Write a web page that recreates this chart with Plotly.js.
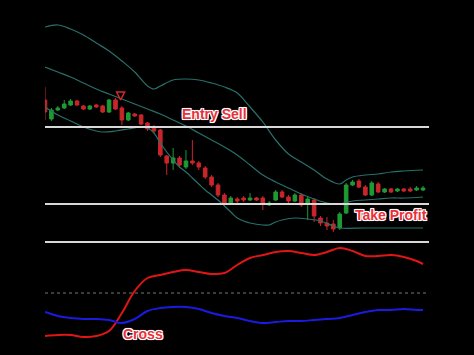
<!DOCTYPE html>
<html>
<head>
<meta charset="utf-8">
<script src="https://cdn.plot.ly/plotly-3.0.1.min.js"></script>
<style>html,body{margin:0;padding:0;background:#000;}#chart{width:474px;height:355px;}</style>
</head>
<body>
<div id="chart"></div>
<script>
// ---- candle data (bar index 0..59) ----
const bars = Array.from({length: 60}, (_, i) => i);
const openP  = [142,123,132,134,137,141,136,133,137,136,130,142,134,122,128,127,119,115,112,86,79,84,75,81,79,74,65,57,47,39,43,44,42,44,44,37,42,50,45,41,47,39,42,24,19,18,14,29,57,61,55,47,58,50,53,51,53,53,52,52];
const highP  = [155,134,136,142,143,142,137,137,138,137,143,144,136,130,129,128,120,117,113,87,94,86,92,102,81,76,67,59,49,46,45,46,49,45,46,41,52,52,47,49,49,45,44,26,25,22,30,59,62,63,57,61,60,54,54,54,54,55,56,56];
const lowP   = [122,121,131,133,136,136,132,132,134,129,129,132,117,121,125,117,111,109,85,67,72,74,73,77,72,63,55,45,36,37,39,40,41,41,32,36,41,44,39,40,35,22,20,16,12,10,12,28,56,54,46,46,49,49,49,50,50,50,51,51];
const closeP = [130,132,134,138,141,137,133,136,135,130,142,133,122,129,126,118,113,111,87,79,84,77,81,79,75,65,57,47,39,44,41,42,44,42,39,39,50,45,41,47,37,43,26,19,16,13,28,57,60,55,47,59,50,53,50,53,51,51,54,54];

// ---- Bollinger bands ----
const upperX = [0,2,4,6,8,10,12,14,16,17,18,20,22,24,26,28,30,32,34,36,38,40,42,44,46,47,48,50,52,54,56,59];
const upperV = [215,217,213,207,199,191,181,170,156,153,156,162,163,162,159,155,149,135,120,102,88,80,72,63,58,62,65,67,68,70,71,72];
const midX = [0,2,4,6,8,10,12,14,16,18,20,22,24,26,28,30,32,34,36,38,40,42,44,46,48,50,52,54,56,59];
const midV = [175,170,165,159,153,148,143,138,133,128,122,116,109,102,95,87,77,67,60,54,48,43,39,38,41,42,43,44,44,45];
const lowerX = [0,2,4,6,8,9,11,13,15,16,17,18,19,20,21,22,23,24,25,26,27,28,29,30,31,32,34,35,36,37,39,41,43,45,46,50,55,59];
const lowerV = [135,127,121,115,111,110,111,113,115,114,109,99,90,82,75,70,64,58,52,47,42,36,30,24,21,19,17,17,20,22,24,23,21,16,14,14,14,14];

// ---- levels ----
const entrySell = 115;
const takeProfit = 38;
const sellSignalBar = 11.8, sellSignalPrice = 142;

// ---- oscillator (lower window) ----
const oscX = [0,2,4,6,8,10,12,14,16,18,20,22,24,26,28,30,32,34,36,38,40,42,44,46,48,50,52,54,56,58,59];
const oscRed  = [7,8,8,6,7,12,30,52,65,68,71,73,71,69,70,78,85,88,91,92,90,88,91,95,92,87,87,88,86,82,79];
const oscBlue = [31,27,25,24,24,23,20,24,32,35,36,36,34,30,27,25,22,20,21,22,22,23,24,25,28,31,33,33,34,33,33];
const oscLevel = 50;

const bandColor = 'rgb(40,112,106)';
const traces = [
  {type:'scatter', mode:'lines', x: upperX, y: upperV, line:{color:bandColor, width:1.2, shape:'spline'}, hoverinfo:'skip'},
  {type:'scatter', mode:'lines', x: midX, y: midV, line:{color:bandColor, width:1.2, shape:'spline'}, hoverinfo:'skip'},
  {type:'scatter', mode:'lines', x: lowerX, y: lowerV, line:{color:bandColor, width:1.2, shape:'spline'}, hoverinfo:'skip'},
  {type:'candlestick', x: bars, open: openP, high: highP, low: lowP, close: closeP,
   increasing:{line:{color:'#1f9a33', width:1}, fillcolor:'#1f9a33'},
   decreasing:{line:{color:'#c8262b', width:1}, fillcolor:'#c8262b'}},
  {type:'scatter', mode:'markers', x:[sellSignalBar], y:[sellSignalPrice], marker:{symbol:'arrow-down-open', size:8, color:'#d42a2a', line:{width:1.5, color:'#d42a2a'}}},
  {type:'scatter', mode:'lines', x: oscX, y: oscRed, yaxis:'y2', line:{color:'#e01515', width:2, shape:'spline'}},
  {type:'scatter', mode:'lines', x: oscX, y: oscBlue, yaxis:'y2', line:{color:'#1a1ae0', width:2, shape:'spline'}}
];

const sep = 113/355;
const lblFont = {family:'Liberation Sans, Arial, sans-serif', size:14, weight:700, color:'#e8303a',
  shadow:'1px 1px 0 #fff, -1px -1px 0 #fff, 1px -1px 0 #fff, -1px 1px 0 #fff, 0 1px 1px #fcc, 1px 0 1px #fcc, 0 -1px 1px #fcc, -1px 0 1px #fcc'};

const layout = {
  width:474, height:355, margin:{l:0,r:0,t:0,b:0},
  paper_bgcolor:'#000', plot_bgcolor:'#000', showlegend:false,
  boxgap:0.2,
  xaxis:{domain:[45/474, 429/474], range:[0, 59.93], visible:false, rangeslider:{visible:false}, fixedrange:true},
  yaxis:{domain:[sep, 1], range:[0, 242], visible:false, fixedrange:true},
  yaxis2:{domain:[0, sep], range:[-12, 101], visible:false, fixedrange:true, anchor:'x'},
  shapes:[
    {type:'line', xref:'x domain', x0:0, x1:1, yref:'y', y0:entrySell, y1:entrySell, line:{color:'#d8d8d8', width:2}},
    {type:'line', xref:'x domain', x0:0, x1:1, yref:'y', y0:takeProfit, y1:takeProfit, line:{color:'#d8d8d8', width:2}},
    {type:'line', xref:'x domain', x0:0, x1:1, yref:'paper', y0:sep, y1:sep, line:{color:'#d8d8d8', width:2}},
    {type:'line', xref:'x domain', x0:0, x1:1, yref:'y2', y0:oscLevel, y1:oscLevel, line:{color:'#777', width:1, dash:'dot'}}
  ],
  annotations:[
    {x:26.5, y:128, xref:'x', yref:'y', text:'Entry Sell', showarrow:false, xanchor:'center', yanchor:'middle', font:lblFont},
    {x:54, y:27, xref:'x', yref:'y', text:'Take Profit', showarrow:false, xanchor:'center', yanchor:'middle', font:lblFont},
    {x:15.3, y:9, xref:'x', yref:'y2', text:'Cross', showarrow:false, xanchor:'center', yanchor:'middle', font:lblFont}
  ]
};

Plotly.newPlot('chart', traces, layout, {staticPlot:true, displayModeBar:false});
</script>
</body>
</html>
